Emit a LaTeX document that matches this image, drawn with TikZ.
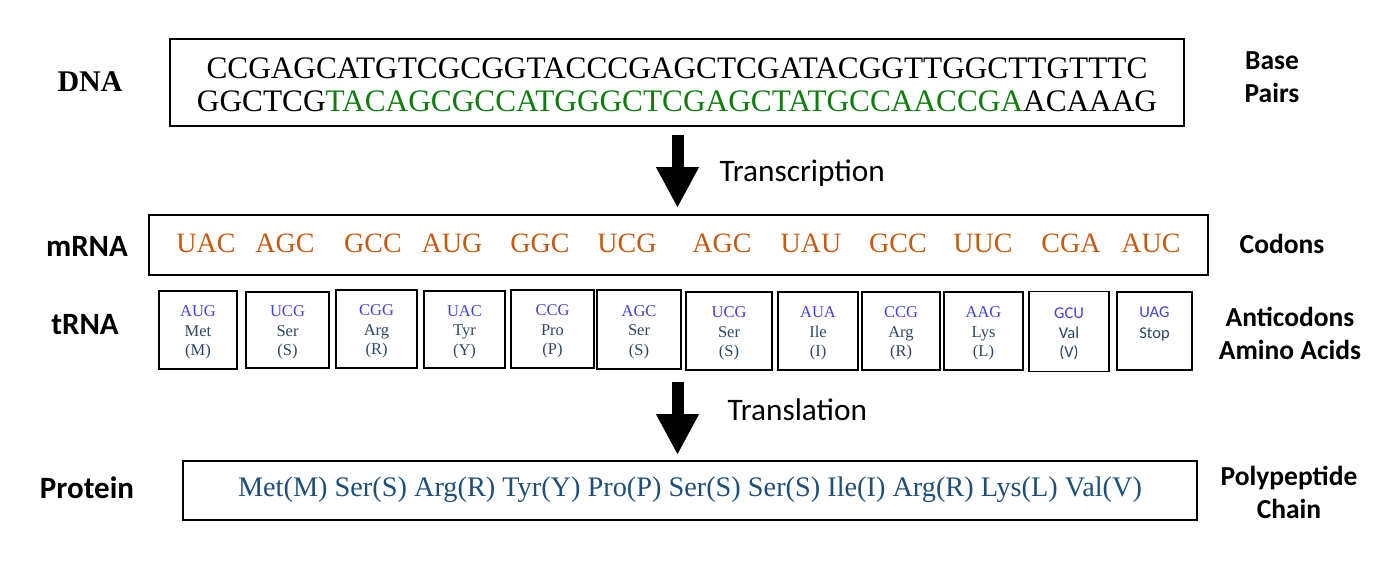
\documentclass[tikz,border=0pt]{standalone}
\usepackage{fontspec}
\setmainfont{Liberation Serif}
\newfontfamily\calib{Carlito}
\usetikzlibrary{arrows.meta}
\definecolor{dnagreen}{RGB}{16,124,16}
\definecolor{codon}{RGB}{197,90,17}
\definecolor{anti}{RGB}{64,64,222}
\definecolor{amino}{RGB}{44,70,100}
\definecolor{prot}{RGB}{31,78,121}
\tikzset{
  box/.style={draw=black, line width=1.1pt, inner sep=0pt},
  ttext/.style={align=center, font=\fontsize{16.5}{19.5}\selectfont},
  lbl/.style={font=\calib\bfseries\fontsize{31}{33}\selectfont, align=center},
  rlbl/.style={font=\calib\bfseries\fontsize{27.5}{33}\selectfont, align=center},
  cod/.style={text=codon, font=\fontsize{28}{30}\selectfont},
  proc/.style={font=\calib\fontsize{31.3}{33}\selectfont, anchor=west},
  bigarrow/.style={line width=12pt, -{Triangle[width=40pt,length=41pt]}},
}
\begin{document}
\begin{tikzpicture}[x=1pt,y=-1pt]
\useasboundingbox (0,0) rectangle (1395,560);
% DNA
\node[box, minimum width=1014pt, minimum height=87pt] (dna) at (677,82.5) {};
\node[font=\fontsize{31.3}{33}\selectfont] (dna1) at (677,68) {CCGAGCATGTCGCGGTACCCGAGCTCGATACGGTTGGCTTGTTTC};
\node[font=\fontsize{31.3}{33}\selectfont] (dna2) at (677,101) {GGCTCG\textcolor{dnagreen}{TACAGCGCCATGGGCTCGAGCTATGCCAACCGA}ACAAAG};
\node[font=\bfseries\fontsize{30}{33}\selectfont] (ldna) at (90,82) {DNA};
\node[rlbl] (rdna) at (1272,77.5) {Base\\Pairs};
% transcription arrow
\coordinate (ta) at (677.5,135);
\coordinate (tb) at (677.5,208);
\draw[bigarrow] (ta) -- (tb);
\node[proc] (ltr) at (716,173) {Transcription};
% mRNA
\node[box, minimum width=1059pt, minimum height=60pt] (mrna) at (678.5,245) {};
\foreach \t/\x [count=\i] in {UAC/206,AGC/285,GCC/373,AUG/452,GGC/540,UCG/627,AGC/722,UAU/811,GCC/898,UUC/983,CGA/1071,AUC/1151}
  \node[cod] (c\i) at (\x,243) {\t};
\node[lbl] (lmrna) at (87,246) {mRNA};
\node[rlbl] (rmrna) at (1282,244) {Codons};
% tRNA boxes
\foreach \l/\r/\tp/\bt/\a/\b/\c [count=\i] in {
  159/237/291/369/AUG/Met/(M),
  246/329/292/368/UCG/Ser/(S),
  336/417/290/368/CGG/Arg/(R),
  424/505/291/368/UAC/Tyr/(Y),
  511/594/290/368/CCG/Pro/(P),
  597/681/290/369/AGC/Ser/(S),
  686/772/292/370/UCG/Ser/(S),
  778/858/292/370/AUA/Ile/(I),
  862/940/292/370/CCG/Arg/(R),
  944/1023/292/370/AAG/Lys/(L)}
  {
  \node[box, minimum width={\r-\l}, minimum height={\bt-\tp}] (t\i) at ({(\l+\r)/2},{(\tp+\bt)/2}) {};
  \node[ttext] (tt\i) at ({(\l+\r)/2},{(\tp+\bt)/2+2.5})
    {\textcolor{anti}{\a}\\\textcolor{amino}{\b}\\\textcolor{amino}{\c}};
  }
\node[box, minimum width=80pt, minimum height=80pt] (t11) at (1069,331.5) {};
\node[ttext, font=\calib\fontsize{16.5}{19.5}\selectfont] (tt11) at (1069,334)
    {\textcolor{anti}{GCU}\\\textcolor{amino}{Val}\\\textcolor{amino}{(V)}};
\node[box, minimum width=75pt, minimum height=78pt] (t12) at (1154.5,331) {};
\node[font=\calib\fontsize{16.5}{21}\selectfont, align=center] (tt12) at (1154.5,324)
    {\textcolor{anti}{UAG}\\\textcolor{amino}{Stop}};
\node[lbl] (ltrna) at (85,325) {tRNA};
\node[rlbl] (rtrna) at (1290,333.5) {Anticodons\\Amino Acids};
% translation arrow
\coordinate (tc) at (677.5,382);
\coordinate (td) at (677.5,455);
\draw[bigarrow] (tc) -- (td);
\node[proc] (ltl) at (724,410) {Translation};
% protein
\node[box, minimum width=1014pt, minimum height=59pt] (prot) at (690,490.5) {};
\node[text=prot, font=\fontsize{28.3}{30}\selectfont] (ptext) at (690,490) {Met(M) Ser(S) Arg(R) Tyr(Y) Pro(P) Ser(S) Ser(S) Ile(I) Arg(R) Lys(L) Val(V)};
\node[lbl] (lprot) at (87,488) {Protein};
\node[rlbl] (rprot) at (1289,492.5) {Polypeptide\\Chain};
\end{tikzpicture}
\end{document}
